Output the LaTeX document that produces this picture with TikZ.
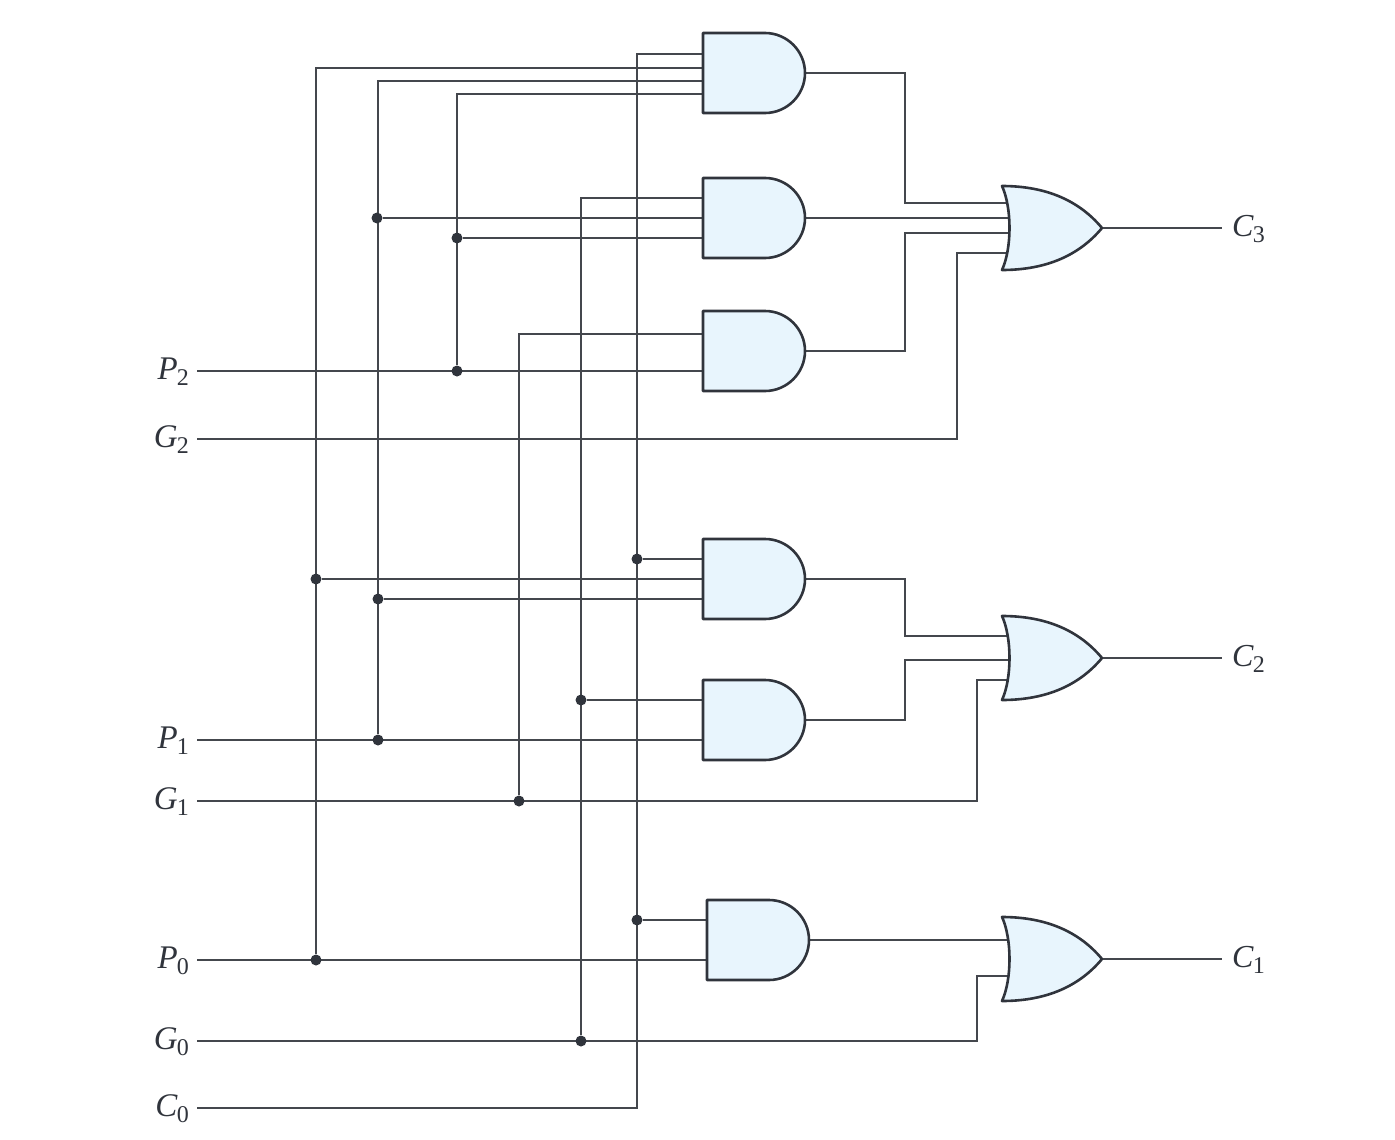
\documentclass[tikz,border=0pt]{standalone}
\usepackage{fontspec}
\setmainfont{Liberation Serif}
\usetikzlibrary{backgrounds}
\definecolor{gateline}{HTML}{30343C}
\definecolor{gatefill}{HTML}{E8F5FD}
\definecolor{wireline}{HTML}{44474D}
\newcommand{\sig}[2]{\textit{#1}\kern-1pt\raisebox{-5.5pt}{\fontsize{24}{24}\selectfont #2}}
\tikzset{
  gate/.style={draw=gateline,fill=gatefill,line width=2.6pt,line join=round},
  wire/.style={draw=wireline,line width=1.7pt},
  dot/.style={circle,fill=gateline,inner sep=0pt,minimum size=11pt},
  sigin/.style={anchor=east,inner sep=8pt,text=gateline,text height=22pt,text depth=5pt,font=\fontsize{33}{33}\selectfont},
  sigout/.style={anchor=west,inner sep=10pt,text=gateline,text height=22pt,text depth=5pt,font=\fontsize{32}{32}\selectfont},
  andgate/.pic={
    \draw[gate] (0,-40) -- (62,-40) .. controls (84,-40) and (102,-22) .. (102,0)
      .. controls (102,22) and (84,40) .. (62,40) -- (0,40) -- cycle;
    \node[inner sep=0pt,minimum width=102pt,minimum height=80pt,anchor=west] (-box) at (0,0) {};
  },
  orgate/.pic={
    \draw[gate] (0,-42) .. controls (40,-42) and (75,-30) .. (100,0)
      .. controls (75,30) and (40,42) .. (0,42)
      .. controls (10,20) and (10,-20) .. (0,-42) -- cycle;
    \node[inner sep=0pt,minimum width=100pt,minimum height=84pt,anchor=west] (-box) at (0,0) {};
    \coordinate (-in) at (8,0);
  }
}
\begin{document}
\begin{tikzpicture}[x=1pt,y=-1pt]
  \useasboundingbox (0,0) rectangle (1395,1140);

  \node[sigin] (P2) at (197,371) {\sig{P}{2}};
  \node[sigin] (G2) at (197,439) {\sig{G}{2}};
  \node[sigin] (P1) at (197,740) {\sig{P}{1}};
  \node[sigin] (G1) at (197,801) {\sig{G}{1}};
  \node[sigin] (P0) at (197,960) {\sig{P}{0}};
  \node[sigin] (G0) at (197,1041) {\sig{G}{0}};
  \node[sigin] (C0) at (197,1108) {\sig{C}{0}};

  \pic (a1) at (703,73) {andgate};
  \pic (a2) at (703,218) {andgate};
  \pic (a3) at (703,351) {andgate};
  \pic (a4) at (703,579) {andgate};
  \pic (a5) at (703,720) {andgate};
  \pic (a6) at (707,940) {andgate};
  \pic (o3) at (1002,228) {orgate};
  \pic (o2) at (1002,658) {orgate};
  \pic (o1) at (1002,959) {orgate};

  \node[sigout] (C3) at (1222,228) {\sig{C}{3}};
  \node[sigout] (C2) at (1222,658) {\sig{C}{2}};
  \node[sigout] (C1) at (1222,959) {\sig{C}{1}};

  \node[dot] (j1) at (377,218) {};
  \node[dot] (j2) at (457,238) {};
  \node[dot] (j3) at (457,371) {};
  \node[dot] (j4) at (637,559) {};
  \node[dot] (j5) at (316,579) {};
  \node[dot] (j6) at (378,599) {};
  \node[dot] (j7) at (581,700) {};
  \node[dot] (j8) at (378,740) {};
  \node[dot] (j9) at (519,801) {};
  \node[dot] (j10) at (637,920) {};
  \node[dot] (j11) at (316,960) {};
  \node[dot] (j12) at (581,1041) {};

  \coordinate (b1) at (637,54);
  \coordinate (b2) at (316,68);
  \coordinate (b3) at (378,81);
  \coordinate (b4) at (457,94);
  \coordinate (b5) at (581,198);
  \coordinate (b6) at (519,334);
  \coordinate (m1) at (905,203);
  \coordinate (m2) at (905,233);
  \coordinate (m3) at (957,253);
  \coordinate (m4) at (905,636);
  \coordinate (m5) at (905,660);
  \coordinate (m6) at (977,680);
  \coordinate (m7) at (977,976);

  \begin{scope}[on background layer]
    \draw[wire] (C0.east) -| (b1) -- (a1-box.west |- b1);
    \draw[wire] (j11) -- (b2) -- (a1-box.west |- b2);
    \draw[wire] (j8) -- (b3) -- (a1-box.west |- b3);
    \draw[wire] (j3) -- (b4) -- (a1-box.west |- b4);
    \draw[wire] (j12) -- (b5) -- (a2-box.west |- b5);
    \draw[wire] (j9) -- (b6) -- (a3-box.west |- b6);

    \draw[wire] (j1) -- (a2-box.west |- j1);
    \draw[wire] (j2) -- (a2-box.west |- j2);
    \draw[wire] (j4) -- (a4-box.west |- j4);
    \draw[wire] (j5) -- (a4-box.west |- j5);
    \draw[wire] (j6) -- (a4-box.west |- j6);
    \draw[wire] (j7) -- (a5-box.west |- j7);
    \draw[wire] (j10) -- (a6-box.west |- j10);

    \draw[wire] (P2.east) -- (a3-box.west |- P2.east);
    \draw[wire] (P1.east) -- (a5-box.west |- P1.east);
    \draw[wire] (P0.east) -- (a6-box.west |- P0.east);
    \draw[wire] (G2.east) -| (m3) -- (o3-in |- m3);
    \draw[wire] (G1.east) -| (m6) -- (o2-in |- m6);
    \draw[wire] (G0.east) -| (m7) -- (o1-in |- m7);

    \draw[wire] (a1-box.east) -| (m1) -- (o3-in |- m1);
    \draw[wire] (a2-box.east) -- (o3-in |- a2-box.east);
    \draw[wire] (a3-box.east) -| (m2) -- (o3-in |- m2);
    \draw[wire] (a4-box.east) -| (m4) -- (o2-in |- m4);
    \draw[wire] (a5-box.east) -| (m5) -- (o2-in |- m5);
    \draw[wire] (a6-box.east) -- (o1-in |- a6-box.east);

    \draw[wire] (o3-box.east) -- (C3.west);
    \draw[wire] (o2-box.east) -- (C2.west);
    \draw[wire] (o1-box.east) -- (C1.west);
  \end{scope}
\end{tikzpicture}
\end{document}
